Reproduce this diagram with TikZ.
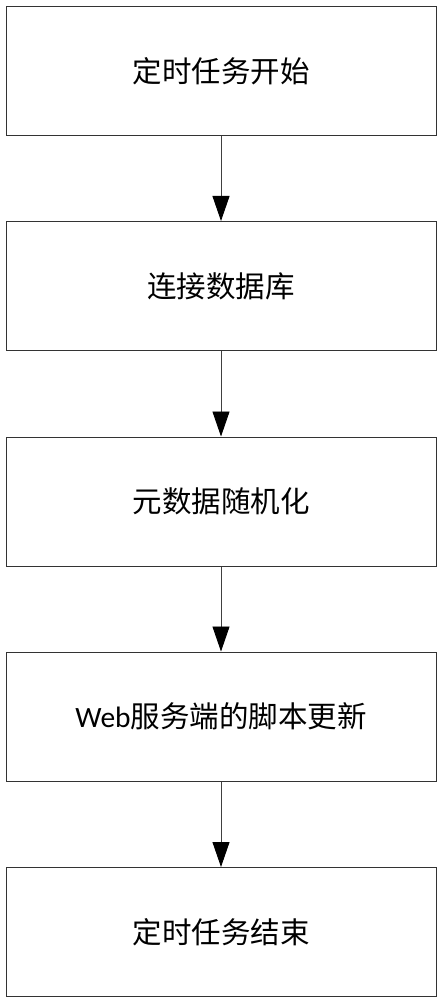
\documentclass[tikz,border=0pt]{standalone}
\usepackage{fontspec}
\usetikzlibrary{arrows.meta}
\newfontfamily\cjk{Noto Sans CJK SC}
\newfontfamily\lat{Carlito}
\begin{document}
\begin{tikzpicture}[x=1pt,y=-1pt,
  stepbox/.style={draw=black!80,line width=1pt,minimum width=430pt,minimum height=129pt,inner sep=0pt,font=\cjk\fontsize{29.5}{34}\selectfont},
  flow/.style={draw=black!75,line width=0.9pt,-{Triangle[width=17pt,length=25pt,fill=black,color=black]}}]
\useasboundingbox (0,0) rectangle (443,1000);
\node[stepbox] (b1) at (221,71.5) {定时任务开始};
\node[stepbox] (b2) at (221,286) {连接数据库};
\node[stepbox] (b3) at (221,501.5) {元数据随机化};
\node[stepbox] (b4) at (221,716.5) {{\lat Web}服务端的脚本更新};
\node[stepbox] (b5) at (221,932) {定时任务结束};
\draw[flow] (b1) -- (b2);
\draw[flow] (b2) -- (b3);
\draw[flow] (b3) -- (b4);
\draw[flow] (b4) -- (b5);
\end{tikzpicture}
\end{document}
